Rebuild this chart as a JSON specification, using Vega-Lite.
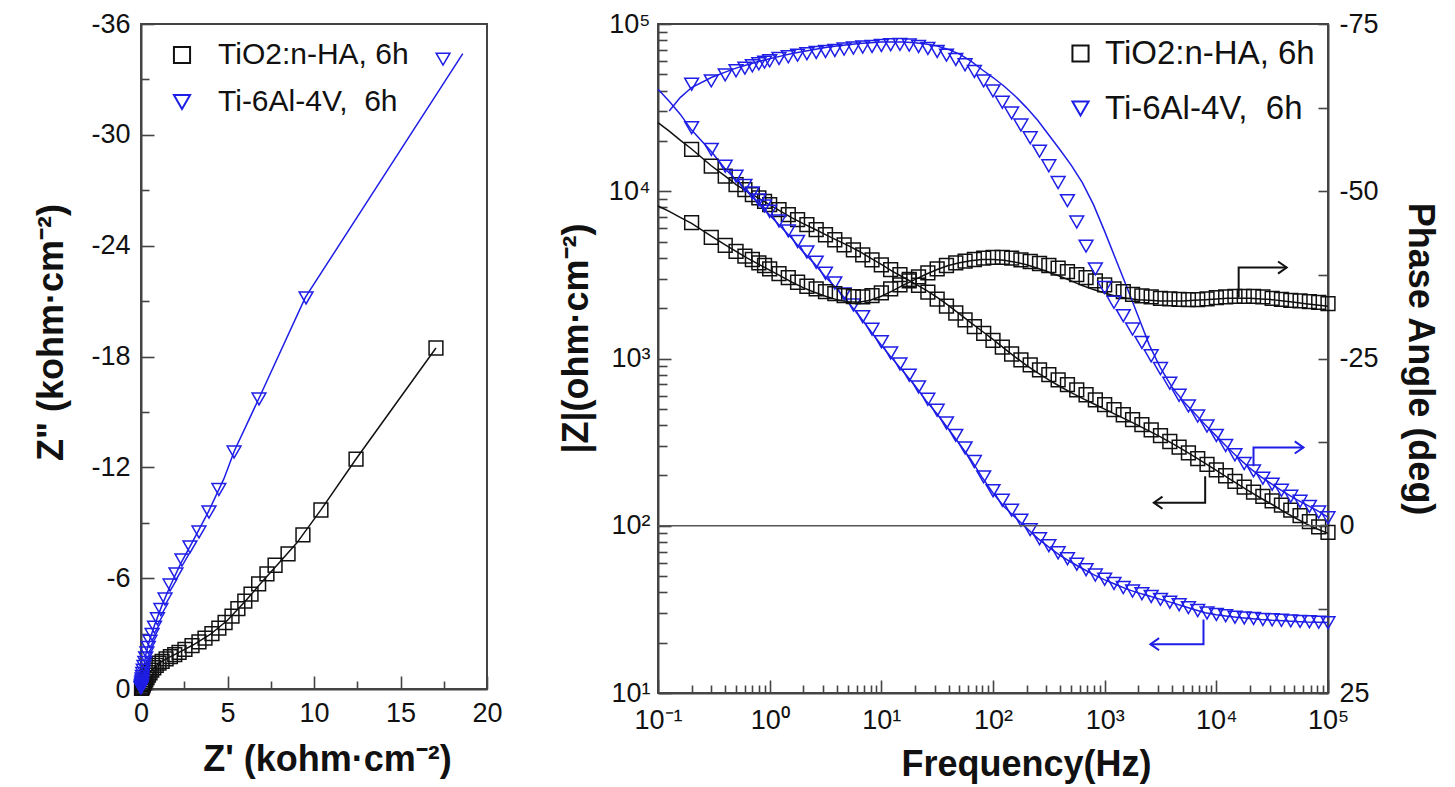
{
  "$schema": "https://vega.github.io/schema/vega-lite/v6.json",
  "background": "white",
  "padding": {"left": 32, "top": 9, "right": 5, "bottom": 5},
  "config": {
    "font": "Liberation Sans",
    "view": {"stroke": "#444", "strokeWidth": 2},
    "axis": {"domainColor": "#444", "domainWidth": 2, "tickColor": "#444", "tickWidth": 1.6, "grid": false,
             "labelFont": "Liberation Sans", "labelFontSize": 27, "labelColor": "#111", "labelFlush": false,
             "titleFont": "Liberation Sans", "titleFontSize": 36, "titleFontWeight": "bold", "titleColor": "#111"},
    "legend": {"labelFont": "Liberation Sans", "labelColor": "#111", "labelLimit": 400,
               "symbolStrokeWidth": 2, "symbolSize": 260, "padding": 0}
  },
  "datasets": {
    "ny": [
      {"s":"T","x":17.05,"y":-18.46},{"s":"T","x":12.43,"y":-12.45},{"s":"T","x":10.4,"y":-9.69},{"s":"T","x":9.36,"y":-8.34},
      {"s":"T","x":8.5,"y":-7.31},{"s":"T","x":7.75,"y":-6.7},{"s":"T","x":7.28,"y":-6.23},{"s":"T","x":6.8,"y":-5.69},
      {"s":"T","x":6.36,"y":-5.14},{"s":"T","x":6.0,"y":-4.76},{"s":"T","x":5.6,"y":-4.35},{"s":"T","x":5.26,"y":-3.95},
      {"s":"T","x":4.86,"y":-3.6},{"s":"T","x":4.5,"y":-3.3},{"s":"T","x":4.1,"y":-3.0},{"s":"T","x":3.7,"y":-2.75},
      {"s":"T","x":3.35,"y":-2.55},{"s":"T","x":2.95,"y":-2.35},{"s":"T","x":2.54,"y":-2.15},{"s":"T","x":2.2,"y":-1.98},
      {"s":"T","x":1.95,"y":-1.86},{"s":"T","x":1.7,"y":-1.75},{"s":"T","x":1.45,"y":-1.63},{"s":"T","x":1.22,"y":-1.5},
      {"s":"T","x":1.04,"y":-1.4},{"s":"T","x":0.88,"y":-1.28},{"s":"T","x":0.74,"y":-1.15},{"s":"T","x":0.62,"y":-1.02},
      {"s":"T","x":0.52,"y":-0.88},{"s":"T","x":0.43,"y":-0.75},{"s":"T","x":0.35,"y":-0.62},{"s":"T","x":0.28,"y":-0.5},
      {"s":"T","x":0.22,"y":-0.4},{"s":"T","x":0.17,"y":-0.31},{"s":"T","x":0.13,"y":-0.23},{"s":"T","x":0.1,"y":-0.16},
      {"s":"T","x":0.07,"y":-0.1},{"s":"T","x":0.05,"y":-0.06},{"s":"T","x":0.03,"y":-0.03},
      {"s":"A","x":17.46,"y":-34.1},{"s":"A","x":9.54,"y":-21.17},{"s":"A","x":6.82,"y":-15.7},{"s":"A","x":5.38,"y":-12.83},
      {"s":"A","x":4.5,"y":-10.8},{"s":"A","x":3.93,"y":-9.58},{"s":"A","x":3.35,"y":-8.5},{"s":"A","x":2.83,"y":-7.69},
      {"s":"A","x":2.37,"y":-6.98},{"s":"A","x":2.02,"y":-6.23},{"s":"A","x":1.68,"y":-5.63},{"s":"A","x":1.39,"y":-4.87},
      {"s":"A","x":1.15,"y":-4.3},{"s":"A","x":0.95,"y":-3.8},{"s":"A","x":0.78,"y":-3.35},{"s":"A","x":0.64,"y":-2.95},
      {"s":"A","x":0.52,"y":-2.58},{"s":"A","x":0.42,"y":-2.25},{"s":"A","x":0.34,"y":-1.95},{"s":"A","x":0.27,"y":-1.68},
      {"s":"A","x":0.22,"y":-1.44},{"s":"A","x":0.17,"y":-1.22},{"s":"A","x":0.13,"y":-1.02},{"s":"A","x":0.1,"y":-0.84},
      {"s":"A","x":0.08,"y":-0.68},{"s":"A","x":0.06,"y":-0.54},{"s":"A","x":0.05,"y":-0.42},{"s":"A","x":0.04,"y":-0.32},
      {"s":"A","x":0.03,"y":-0.24},{"s":"A","x":0.02,"y":-0.16},{"s":"A","x":0.01,"y":-0.1},{"s":"A","x":0.0,"y":-0.05}
    ],
    "nyfit": [
      {"s":"T","x":0.0,"y":0.0},{"s":"T","x":0.1,"y":-0.3},{"s":"T","x":0.3,"y":-0.62},{"s":"T","x":0.6,"y":-1.0},
      {"s":"T","x":1.0,"y":-1.37},{"s":"T","x":1.5,"y":-1.66},{"s":"T","x":2.2,"y":-1.98},{"s":"T","x":3.0,"y":-2.38},
      {"s":"T","x":4.0,"y":-2.95},{"s":"T","x":5.0,"y":-3.72},{"s":"T","x":6.0,"y":-4.72},{"s":"T","x":7.0,"y":-5.8},
      {"s":"T","x":8.0,"y":-6.85},{"s":"T","x":9.0,"y":-7.9},{"s":"T","x":10.4,"y":-9.7},{"s":"T","x":12.43,"y":-12.45},
      {"s":"T","x":17.05,"y":-18.46},
      {"s":"A","x":0.0,"y":0.0},{"s":"A","x":0.05,"y":-0.4},{"s":"A","x":0.15,"y":-1.15},{"s":"A","x":0.3,"y":-1.95},
      {"s":"A","x":0.5,"y":-2.65},{"s":"A","x":0.8,"y":-3.5},{"s":"A","x":1.2,"y":-4.5},{"s":"A","x":1.7,"y":-5.6},
      {"s":"A","x":2.3,"y":-6.8},{"s":"A","x":3.0,"y":-8.0},{"s":"A","x":3.9,"y":-9.6},{"s":"A","x":4.8,"y":-11.4},
      {"s":"A","x":5.4,"y":-12.9},{"s":"A","x":6.9,"y":-15.9},{"s":"A","x":9.5,"y":-21.2},{"s":"A","x":18.6,"y":-34.4}
    ],
    "bode": [
      {"s":"T","f":0.2,"z":17783,"p":-45.3},{"s":"T","f":0.3,"z":14125,"p":-43.1},{"s":"T","f":0.4,"z":12303,"p":-41.9},{"s":"T","f":0.5,"z":10965,"p":-41.0},
      {"s":"T","f":0.6,"z":10233,"p":-40.3},{"s":"T","f":0.7,"z":9550,"p":-39.8},{"s":"T","f":0.8,"z":9120,"p":-39.3},{"s":"T","f":0.9,"z":8710,"p":-38.9},
      {"s":"T","f":1,"z":8318,"p":-38.4},{"s":"T","f":1.212,"z":7762,"p":-37.7},{"s":"T","f":1.468,"z":7244,"p":-37.1},{"s":"T","f":1.778,"z":6761,"p":-36.4},
      {"s":"T","f":2.154,"z":6310,"p":-35.8},{"s":"T","f":2.61,"z":5888,"p":-35.4},{"s":"T","f":3.162,"z":5495,"p":-35.0},{"s":"T","f":3.831,"z":5129,"p":-34.7},
      {"s":"T","f":4.642,"z":4786,"p":-34.4},{"s":"T","f":5.623,"z":4467,"p":-34.25},{"s":"T","f":6.813,"z":4169,"p":-34.2},{"s":"T","f":8.254,"z":3890,"p":-34.4},
      {"s":"T","f":10,"z":3631,"p":-34.8},{"s":"T","f":12.12,"z":3396,"p":-35.4},{"s":"T","f":14.68,"z":3177,"p":-36.0},{"s":"T","f":17.78,"z":2972,"p":-36.6},
      {"s":"T","f":21.54,"z":2742,"p":-37.2},{"s":"T","f":26.1,"z":2495,"p":-37.8},{"s":"T","f":31.62,"z":2265,"p":-38.4},{"s":"T","f":38.31,"z":2056,"p":-38.9},
      {"s":"T","f":46.42,"z":1871,"p":-39.3},{"s":"T","f":56.23,"z":1702,"p":-39.55},{"s":"T","f":68.13,"z":1549,"p":-39.8},{"s":"T","f":82.54,"z":1413,"p":-40.0},
      {"s":"T","f":100,"z":1282,"p":-40.1},{"s":"T","f":121.2,"z":1169,"p":-40.1},{"s":"T","f":146.8,"z":1064,"p":-40.0},{"s":"T","f":177.8,"z":982,"p":-39.75},
      {"s":"T","f":215.4,"z":916,"p":-39.5},{"s":"T","f":261,"z":855,"p":-39.2},{"s":"T","f":316.2,"z":800,"p":-38.9},{"s":"T","f":383.1,"z":746,"p":-38.5},
      {"s":"T","f":464.2,"z":697,"p":-38.0},{"s":"T","f":562.3,"z":650,"p":-37.55},{"s":"T","f":681.3,"z":607,"p":-37.1},{"s":"T","f":825.4,"z":566,"p":-36.6},
      {"s":"T","f":1000,"z":530,"p":-36.0},{"s":"T","f":1212,"z":494,"p":-35.4},{"s":"T","f":1468,"z":461,"p":-35.0},{"s":"T","f":1778,"z":431,"p":-34.6},
      {"s":"T","f":2154,"z":402,"p":-34.35},{"s":"T","f":2610,"z":374,"p":-34.2},{"s":"T","f":3162,"z":346,"p":-34.0},{"s":"T","f":3831,"z":319,"p":-33.9},
      {"s":"T","f":4642,"z":295,"p":-33.85},{"s":"T","f":5623,"z":273,"p":-33.8},{"s":"T","f":6813,"z":252,"p":-33.8},{"s":"T","f":8254,"z":233,"p":-33.9},
      {"s":"T","f":10000,"z":216,"p":-34.1},{"s":"T","f":12120,"z":199,"p":-34.2},{"s":"T","f":14680,"z":184,"p":-34.3},{"s":"T","f":17780,"z":170,"p":-34.3},
      {"s":"T","f":21540,"z":159,"p":-34.3},{"s":"T","f":26100,"z":150,"p":-34.2},{"s":"T","f":31620,"z":141,"p":-34.0},{"s":"T","f":38310,"z":133,"p":-33.85},
      {"s":"T","f":46420,"z":124,"p":-33.7},{"s":"T","f":56230,"z":115,"p":-33.6},{"s":"T","f":68130,"z":106,"p":-33.5},{"s":"T","f":82540,"z":98.4,"p":-33.4},
      {"s":"T","f":100000,"z":91.2,"p":-33.2},
      {"s":"A","f":0.2,"z":23988,"p":-66.0},{"s":"A","f":0.3,"z":17783,"p":-66.5},{"s":"A","f":0.4,"z":14125,"p":-67.4},{"s":"A","f":0.5,"z":12303,"p":-68.0},
      {"s":"A","f":0.6,"z":10839,"p":-68.4},{"s":"A","f":0.7,"z":9772,"p":-68.75},{"s":"A","f":0.8,"z":8872,"p":-69.05},{"s":"A","f":0.9,"z":8166,"p":-69.3},
      {"s":"A","f":1,"z":7586,"p":-69.5},{"s":"A","f":1.212,"z":6637,"p":-69.85},{"s":"A","f":1.468,"z":5794,"p":-70.1},{"s":"A","f":1.778,"z":5012,"p":-70.35},
      {"s":"A","f":2.154,"z":4335,"p":-70.55},{"s":"A","f":2.61,"z":3767,"p":-70.75},{"s":"A","f":3.162,"z":3236,"p":-70.9},{"s":"A","f":3.831,"z":2831,"p":-71.05},
      {"s":"A","f":4.642,"z":2432,"p":-71.25},{"s":"A","f":5.623,"z":2089,"p":-71.4},{"s":"A","f":6.813,"z":1778,"p":-71.55},{"s":"A","f":8.254,"z":1496,"p":-71.65},
      {"s":"A","f":10,"z":1259,"p":-71.8},{"s":"A","f":12.12,"z":1079,"p":-71.9},{"s":"A","f":14.68,"z":927,"p":-71.95},{"s":"A","f":17.78,"z":794,"p":-71.85},
      {"s":"A","f":21.54,"z":676,"p":-71.65},{"s":"A","f":26.1,"z":570,"p":-71.35},{"s":"A","f":31.62,"z":490,"p":-70.9},{"s":"A","f":38.31,"z":412,"p":-70.35},
      {"s":"A","f":46.42,"z":347,"p":-69.7},{"s":"A","f":56.23,"z":292,"p":-68.9},{"s":"A","f":68.13,"z":242,"p":-67.9},{"s":"A","f":82.54,"z":196,"p":-66.5},
      {"s":"A","f":100,"z":162,"p":-65.0},{"s":"A","f":121.2,"z":142,"p":-63.3},{"s":"A","f":146.8,"z":124,"p":-61.7},{"s":"A","f":177.8,"z":108,"p":-59.9},
      {"s":"A","f":215.4,"z":94.8,"p":-58.0},{"s":"A","f":261,"z":83.6,"p":-56.0},{"s":"A","f":316.2,"z":75.9,"p":-53.8},{"s":"A","f":383.1,"z":68.9,"p":-51.3},
      {"s":"A","f":464.2,"z":63.5,"p":-48.6},{"s":"A","f":562.3,"z":58.9,"p":-45.4},{"s":"A","f":681.3,"z":54.6,"p":-41.8},{"s":"A","f":825.4,"z":50.7,"p":-38.4},
      {"s":"A","f":1000,"z":47.9,"p":-35.6},{"s":"A","f":1212,"z":45.2,"p":-33.4},{"s":"A","f":1468,"z":42.7,"p":-31.4},{"s":"A","f":1778,"z":40.7,"p":-29.4},
      {"s":"A","f":2154,"z":39.2,"p":-27.4},{"s":"A","f":2610,"z":37.8,"p":-25.4},{"s":"A","f":3162,"z":36.3,"p":-23.5},{"s":"A","f":3831,"z":34.9,"p":-21.3},
      {"s":"A","f":4642,"z":33.7,"p":-19.5},{"s":"A","f":5623,"z":32.4,"p":-17.9},{"s":"A","f":6813,"z":31.1,"p":-16.4},{"s":"A","f":8254,"z":30.1,"p":-14.9},
      {"s":"A","f":10000,"z":29.5,"p":-13.5},{"s":"A","f":12120,"z":29.0,"p":-12.0},{"s":"A","f":14680,"z":28.4,"p":-10.6},{"s":"A","f":17780,"z":28.1,"p":-9.3},
      {"s":"A","f":21540,"z":27.9,"p":-8.2},{"s":"A","f":26100,"z":27.5,"p":-7.1},{"s":"A","f":31620,"z":27.4,"p":-6.2},{"s":"A","f":38310,"z":27.2,"p":-5.3},
      {"s":"A","f":46420,"z":27.0,"p":-4.4},{"s":"A","f":56230,"z":26.8,"p":-3.65},{"s":"A","f":68130,"z":26.7,"p":-2.9},{"s":"A","f":82540,"z":26.5,"p":-2.05},
      {"s":"A","f":100000,"z":26.3,"p":-1.2}
    ],
    "bfit": [
      {"s":"T","f":0.1,"fz":25700,"fp":-47.8},{"s":"T","f":0.126,"fz":22900,"fp":-47.0},{"s":"T","f":0.158,"fz":20200,"fp":-46.1},
      {"s":"T","f":0.2,"fz":17900,"fp":-45.2},{"s":"T","f":0.3,"fz":14200,"fp":-43.3},{"s":"T","f":0.4,"fz":12300,"fp":-42.0},
      {"s":"T","f":0.5,"fz":10950,"fp":-41.0},{"s":"T","f":0.631,"fz":9950,"fp":-40.0},{"s":"T","f":0.794,"fz":9100,"fp":-39.1},
      {"s":"T","f":1,"fz":8300,"fp":-38.2},{"s":"T","f":1.259,"fz":7580,"fp":-37.3},{"s":"T","f":1.585,"fz":6930,"fp":-36.4},
      {"s":"T","f":1.995,"fz":6400,"fp":-35.6},{"s":"T","f":2.512,"fz":5950,"fp":-34.9},{"s":"T","f":3.162,"fz":5500,"fp":-34.3},
      {"s":"T","f":3.981,"fz":5100,"fp":-33.8},{"s":"T","f":5.012,"fz":4750,"fp":-33.5},{"s":"T","f":6.31,"fz":4380,"fp":-33.4},
      {"s":"T","f":7.943,"fz":4000,"fp":-33.7},{"s":"T","f":10,"fz":3650,"fp":-34.3},{"s":"T","f":12.59,"fz":3320,"fp":-35.1},
      {"s":"T","f":15.85,"fz":3050,"fp":-36.0},{"s":"T","f":19.95,"fz":2800,"fp":-36.8},{"s":"T","f":25.12,"fz":2560,"fp":-37.6},
      {"s":"T","f":31.62,"fz":2320,"fp":-38.3},{"s":"T","f":39.81,"fz":2080,"fp":-38.9},{"s":"T","f":50.12,"fz":1850,"fp":-39.3},
      {"s":"T","f":63.1,"fz":1640,"fp":-39.6},{"s":"T","f":79.43,"fz":1460,"fp":-39.8},{"s":"T","f":100,"fz":1300,"fp":-39.8},
      {"s":"T","f":125.9,"fz":1150,"fp":-39.7},{"s":"T","f":158.5,"fz":1020,"fp":-39.4},{"s":"T","f":199.5,"fz":910,"fp":-39.0},
      {"s":"T","f":251.2,"fz":820,"fp":-38.5},{"s":"T","f":316.2,"fz":745,"fp":-37.9},{"s":"T","f":398.1,"fz":680,"fp":-37.3},
      {"s":"T","f":501.2,"fz":625,"fp":-36.6},{"s":"T","f":631,"fz":578,"fp":-35.9},{"s":"T","f":794.3,"fz":536,"fp":-35.3},
      {"s":"T","f":1000,"fz":498,"fp":-34.8},{"s":"T","f":1259,"fz":462,"fp":-34.3},{"s":"T","f":1585,"fz":430,"fp":-34.0},
      {"s":"T","f":1995,"fz":398,"fp":-33.8},{"s":"T","f":2512,"fz":368,"fp":-33.7},{"s":"T","f":3162,"fz":340,"fp":-33.6},
      {"s":"T","f":3981,"fz":312,"fp":-33.6},{"s":"T","f":5012,"fz":285,"fp":-33.6},{"s":"T","f":6310,"fz":260,"fp":-33.7},
      {"s":"T","f":7943,"fz":236,"fp":-33.8},{"s":"T","f":10000,"fz":214,"fp":-33.9},{"s":"T","f":12589,"fz":194,"fp":-34.0},
      {"s":"T","f":15849,"fz":176,"fp":-34.0},{"s":"T","f":19953,"fz":160,"fp":-34.0},{"s":"T","f":25119,"fz":146,"fp":-33.9},
      {"s":"T","f":31623,"fz":134,"fp":-33.8},{"s":"T","f":39811,"fz":122,"fp":-33.6},{"s":"T","f":50119,"fz":112,"fp":-33.4},
      {"s":"T","f":63096,"fz":103,"fp":-33.2},{"s":"T","f":79433,"fz":96,"fp":-33.0},{"s":"T","f":100000,"fz":90,"fp":-32.8},
      {"s":"A","f":0.1,"fz":40700},{"s":"A","f":0.126,"fz":34500,"fp":-62.0},{"s":"A","f":0.158,"fz":28900,"fp":-64.0},
      {"s":"A","f":0.2,"fz":23200,"fp":-65.5},{"s":"A","f":0.3,"fz":17300,"fp":-67.0},{"s":"A","f":0.4,"fz":13600,"fp":-67.8},
      {"s":"A","f":0.5,"fz":11700,"fp":-68.4},{"s":"A","f":0.631,"fz":9950,"fp":-68.9},{"s":"A","f":0.794,"fz":8470,"fp":-69.4},
      {"s":"A","f":1,"fz":7200,"fp":-69.8},{"s":"A","f":1.259,"fz":6130,"fp":-70.2},{"s":"A","f":1.585,"fz":5220,"fp":-70.6},
      {"s":"A","f":1.995,"fz":4340,"fp":-70.9},{"s":"A","f":2.512,"fz":3700,"fp":-71.2},{"s":"A","f":3.162,"fz":3070,"fp":-71.5},
      {"s":"A","f":3.981,"fz":2620,"fp":-71.7},{"s":"A","f":5.012,"fz":2180,"fp":-71.9},{"s":"A","f":6.31,"fz":1810,"fp":-72.1},
      {"s":"A","f":7.943,"fz":1470,"fp":-72.2},{"s":"A","f":10,"fz":1200,"fp":-72.3},{"s":"A","f":12.59,"fz":995,"fp":-72.3},
      {"s":"A","f":15.85,"fz":830,"fp":-72.3},{"s":"A","f":19.95,"fz":690,"fp":-72.2},{"s":"A","f":25.12,"fz":560,"fp":-72.0},
      {"s":"A","f":31.62,"fz":466,"fp":-71.7},{"s":"A","f":39.81,"fz":380,"fp":-71.2},{"s":"A","f":50.12,"fz":308,"fp":-70.5},
      {"s":"A","f":63.1,"fz":250,"fp":-69.5},{"s":"A","f":79.43,"fz":196,"fp":-68.2},{"s":"A","f":100,"fz":157,"fp":-67.0},
      {"s":"A","f":125.9,"fz":130,"fp":-65.7},{"s":"A","f":158.5,"fz":112,"fp":-64.2},{"s":"A","f":199.5,"fz":97,"fp":-62.5},
      {"s":"A","f":251.2,"fz":84,"fp":-60.6},{"s":"A","f":316.2,"fz":74.5,"fp":-58.4},{"s":"A","f":398.1,"fz":66.5,"fp":-56.2},
      {"s":"A","f":501.2,"fz":60.5,"fp":-53.9},{"s":"A","f":631,"fz":55.5,"fp":-51.3},{"s":"A","f":794.3,"fz":51,"fp":-48.0},
      {"s":"A","f":1000,"fz":47.5,"fp":-44.0},{"s":"A","f":1259,"fz":44.5,"fp":-39.8},{"s":"A","f":1585,"fz":41.8,"fp":-35.6},
      {"s":"A","f":1995,"fz":39.7,"fp":-31.3},{"s":"A","f":2512,"fz":38.0,"fp":-27.0},{"s":"A","f":3162,"fz":36.3,"fp":-23.6},
      {"s":"A","f":3981,"fz":34.7,"fp":-20.8},{"s":"A","f":5012,"fz":33.1,"fp":-18.7},{"s":"A","f":6310,"fz":31.6,"fp":-16.9},
      {"s":"A","f":7943,"fz":30.2,"fp":-15.1},{"s":"A","f":10000,"fz":29.4,"fp":-13.4},{"s":"A","f":12589,"fz":28.8,"fp":-11.7},
      {"s":"A","f":15849,"fz":28.3,"fp":-10.1},{"s":"A","f":19953,"fz":27.9,"fp":-8.6},{"s":"A","f":25119,"fz":27.5,"fp":-7.3},
      {"s":"A","f":31623,"fz":27.2,"fp":-6.2},{"s":"A","f":39811,"fz":27.0,"fp":-5.1},{"s":"A","f":50119,"fz":26.8,"fp":-4.1},
      {"s":"A","f":63096,"fz":26.6,"fp":-3.2},{"s":"A","f":79433,"fz":26.5,"fp":-2.3},{"s":"A","f":100000,"fz":26.4,"fp":-1.3}
    ],
    "arrows": [
      {"a":"kR","s":"T","o":1,"f":15849,"p":-34.1},{"a":"kR","s":"T","o":2,"f":15849,"p":-38.6},{"a":"kR","s":"T","o":3,"f":42658,"p":-38.6},
      {"a":"kL","s":"T","o":1,"f":7943,"p":-7.4},{"a":"kL","s":"T","o":2,"f":7943,"p":-3.45},{"a":"kL","s":"T","o":3,"f":2754,"p":-3.45},
      {"a":"bR","s":"A","o":1,"f":21528,"p":-8.9},{"a":"bR","s":"A","o":2,"f":21528,"p":-11.7},{"a":"bR","s":"A","o":3,"f":60256,"p":-11.7},
      {"a":"bL","s":"A","o":1,"f":7674,"p":14.0},{"a":"bL","s":"A","o":2,"f":7674,"p":17.7},{"a":"bL","s":"A","o":3,"f":2570,"p":17.7}
    ]
  },
  "hconcat": [
    {
      "width": 346,
      "height": 665,
      "layer": [
        {
          "data": {"name": "nyfit"},
          "mark": {"type": "line", "strokeWidth": 1.5},
          "encoding": {
            "x": {"field": "x", "type": "quantitative", "scale": {"domain": [0, 20], "nice": false, "zero": false},
                  "axis": {"orient": "bottom", "values": [2.5, 7.5, 12.5, 17.5], "labels": false, "domain": false, "tickSize": -8, "title": null}},
            "y": {"field": "y", "type": "quantitative", "scale": {"domain": [-36, 0], "nice": false, "zero": false, "reverse": true},
                  "axis": {"orient": "left", "values": [-33, -27, -21, -15, -9, -3], "labels": false, "domain": false, "tickSize": -8, "title": null}},
            "detail": {"field": "s"},
            "color": {"condition": {"test": "datum.s == 'A'", "value": "#1e1ee6"}, "value": "#111111"}
          }
        },
        {
          "data": {"name": "ny"},
          "mark": {"type": "point", "filled": false, "size": 190, "strokeWidth": 1.5, "opacity": 1},
          "encoding": {
            "x": {"field": "x", "type": "quantitative",
                  "axis": {"orient": "bottom", "values": [0, 5, 10, 15, 20], "tickSize": -13, "labelPadding": 24, "title": "Z' (kohm·cm⁻²)", "titlePadding": 16, "titleX": 186}},
            "y": {"field": "y", "type": "quantitative",
                  "axis": {"orient": "left", "values": [-36, -30, -24, -18, -12, -6, 0], "tickSize": -13, "labelPadding": 24,
                           "labelExpr": "datum.value < 0 ? '-' + abs(datum.value) : '' + datum.value",
                           "title": "Z\" (kohm·cm⁻²)", "titlePadding": 20, "titleY": 308}},
            "color": {"field": "s", "type": "nominal", "scale": {"domain": ["T", "A"], "range": ["#111111", "#1e1ee6"]},
                      "legend": {"title": null, "orient": "top-left", "offset": 16, "symbolOffset": 10, "labelOffset": 21, "rowPadding": 17, "labelFontSize": 30,
                                 "labelExpr": "datum.value == 'T' ? 'TiO2:n-HA, 6h' : 'Ti-6Al-4V,\u00a0 6h'"}},
            "shape": {"field": "s", "type": "nominal", "scale": {"domain": ["T", "A"], "range": ["square", "triangle-down"]},
                      "legend": {"title": null, "orient": "top-left", "offset": 16, "symbolOffset": 10, "labelOffset": 21, "rowPadding": 17, "labelFontSize": 30,
                                 "labelExpr": "datum.value == 'T' ? 'TiO2:n-HA, 6h' : 'Ti-6Al-4V,\u00a0 6h'"}}
          }
        }
      ],
      "resolve": {"axis": {"x": "independent", "y": "independent"}}
    },
    {
      "width": 670,
      "height": 669,
      "layer": [
        {
          "layer": [
            {
              "data": {"name": "bfit"},
              "transform": [{"filter": "isValid(datum.fz)"}],
              "mark": {"type": "line", "strokeWidth": 1.5},
              "encoding": {
                "x": {"field": "f", "type": "quantitative", "scale": {"type": "log", "domain": [0.1, 100000], "nice": false},
                      "axis": {"orient": "bottom", "values": [0.2,0.3,0.4,0.5,0.6,0.7,0.8,0.9,2,3,4,5,6,7,8,9,20,30,40,50,60,70,80,90,200,300,400,500,600,700,800,900,2000,3000,4000,5000,6000,7000,8000,9000,20000,30000,40000,50000,60000,70000,80000,90000],
                               "labels": false, "domain": false, "tickSize": -8, "title": null}},
                "y": {"field": "fz", "type": "quantitative", "scale": {"type": "log", "domain": [10, 100000], "nice": false},
                      "axis": {"orient": "left", "values": [20,30,40,50,60,70,80,90,200,300,400,500,600,700,800,900,2000,3000,4000,5000,6000,7000,8000,9000,20000,30000,40000,50000,60000,70000,80000,90000],
                               "labels": false, "domain": false, "tickSize": -9, "title": null}},
                "detail": {"field": "s"},
                "color": {"condition": {"test": "datum.s == 'A'", "value": "#1e1ee6"}, "value": "#111111"}
              }
            },
            {
              "data": {"name": "bode"},
              "mark": {"type": "point", "filled": false, "size": 190, "strokeWidth": 1.5, "opacity": 1},
              "encoding": {
                "x": {"field": "f", "type": "quantitative",
                      "axis": {"orient": "bottom", "values": [0.1, 1, 10, 100, 1000, 10000, 100000], "tickSize": -13, "labelPadding": 27,
                               "labelExpr": "datum.value < 0.5 ? '10⁻¹' : datum.value < 5 ? '10⁰' : datum.value < 50 ? '10¹' : datum.value < 500 ? '10²' : datum.value < 5000 ? '10³' : datum.value < 50000 ? '10⁴' : '10⁵'",
                               "title": "Frequency(Hz)", "titlePadding": 14, "titleX": 368}},
                "y": {"field": "z", "type": "quantitative",
                      "axis": {"orient": "left", "values": [10, 100, 1000, 10000, 100000], "tickSize": -13, "labelPadding": 21,
                               "labelExpr": "datum.value < 50 ? '10¹' : datum.value < 500 ? '10²' : datum.value < 5000 ? '10³' : datum.value < 50000 ? '10⁴' : '10⁵'",
                               "title": "|Z|(ohm·cm⁻²)", "titlePadding": 13, "titleY": 314}},
                "color": {"field": "s", "type": "nominal", "scale": {"domain": ["T", "A"], "range": ["#111111", "#1e1ee6"]},
                          "legend": {"title": null, "orient": "top-right", "offset": 13, "symbolOffset": 0, "labelOffset": 8, "rowPadding": 21, "labelFontSize": 33,
                                     "labelExpr": "datum.value == 'T' ? 'TiO2:n-HA, 6h' : 'Ti-6Al-4V,\u00a0 6h'"}},
                "shape": {"field": "s", "type": "nominal", "scale": {"domain": ["T", "A"], "range": ["square", "triangle-down"]},
                          "legend": {"title": null, "orient": "top-right", "offset": 13, "symbolOffset": 0, "labelOffset": 8, "rowPadding": 21, "labelFontSize": 33,
                                     "labelExpr": "datum.value == 'T' ? 'TiO2:n-HA, 6h' : 'Ti-6Al-4V,\u00a0 6h'"}}
              }
            }
          ],
          "resolve": {"axis": {"x": "independent", "y": "independent"}}
        },
        {
          "layer": [
            {
              "data": {"values": [{"ref": 0}]},
              "mark": {"type": "rule", "color": "#555555", "strokeWidth": 1.5},
              "encoding": {"y": {"field": "ref", "type": "quantitative", "scale": {"domain": [-75, 25], "reverse": true, "nice": false, "zero": false},
                      "axis": {"orient": "right", "values": [-75, -62.5, -50, -37.5, -25, -12.5, 0, 12.5, 25], "tickSize": -10, "labelPadding": 21,
                               "labelExpr": "datum.value % 25 == 0 ? (datum.value < 0 ? '-' + abs(datum.value) : '' + datum.value) : ''",
                               "title": "Phase Angle (deg)", "titlePadding": 22}}}
            },
            {
              "data": {"name": "bfit"},
              "transform": [{"filter": "isValid(datum.fp)"}],
              "mark": {"type": "line", "strokeWidth": 1.5},
              "encoding": {
                "x": {"field": "f", "type": "quantitative", "axis": null},
                "y": {"field": "fp", "type": "quantitative",
                      "axis": {"orient": "right", "values": [-75, -62.5, -50, -37.5, -25, -12.5, 0, 12.5, 25], "tickSize": -10, "labelPadding": 21,
                               "labelExpr": "datum.value % 25 == 0 ? (datum.value < 0 ? '-' + abs(datum.value) : '' + datum.value) : ''",
                               "title": "Phase Angle (deg)", "titlePadding": 22}},
                "detail": {"field": "s"},
                "color": {"condition": {"test": "datum.s == 'A'", "value": "#1e1ee6"}, "value": "#111111"}
              }
            },
            {
              "data": {"name": "bode"},
              "mark": {"type": "point", "filled": false, "size": 190, "strokeWidth": 1.5, "opacity": 1},
              "encoding": {
                "x": {"field": "f", "type": "quantitative", "axis": null},
                "y": {"field": "p", "type": "quantitative",
                      "axis": {"orient": "right", "values": [-75, -62.5, -50, -37.5, -25, -12.5, 0, 12.5, 25], "tickSize": -10, "labelPadding": 21,
                               "labelExpr": "datum.value % 25 == 0 ? (datum.value < 0 ? '-' + abs(datum.value) : '' + datum.value) : ''",
                               "title": "Phase Angle (deg)", "titlePadding": 22}},
                "color": {"field": "s", "type": "nominal", "scale": {"domain": ["T", "A"], "range": ["#111111", "#1e1ee6"]},
                          "legend": {"title": null, "orient": "top-right", "offset": 13, "symbolOffset": 0, "labelOffset": 8, "rowPadding": 21, "labelFontSize": 33,
                                     "labelExpr": "datum.value == 'T' ? 'TiO2:n-HA, 6h' : 'Ti-6Al-4V,\u00a0 6h'"}},
                "shape": {"field": "s", "type": "nominal", "scale": {"domain": ["T", "A"], "range": ["square", "triangle-down"]},
                          "legend": {"title": null, "orient": "top-right", "offset": 13, "symbolOffset": 0, "labelOffset": 8, "rowPadding": 21, "labelFontSize": 33,
                                     "labelExpr": "datum.value == 'T' ? 'TiO2:n-HA, 6h' : 'Ti-6Al-4V,\u00a0 6h'"}}
              }
            },
            {
              "data": {"name": "arrows"},
              "mark": {"type": "line", "strokeWidth": 2},
              "encoding": {
                "x": {"field": "f", "type": "quantitative", "axis": null},
                "y": {"field": "p", "type": "quantitative",
                      "axis": {"orient": "right", "values": [-75, -62.5, -50, -37.5, -25, -12.5, 0, 12.5, 25], "tickSize": -10, "labelPadding": 21,
                               "labelExpr": "datum.value % 25 == 0 ? (datum.value < 0 ? '-' + abs(datum.value) : '' + datum.value) : ''",
                               "title": "Phase Angle (deg)", "titlePadding": 22}},
                "detail": {"field": "a"},
                "order": {"field": "o"},
                "color": {"condition": {"test": "datum.s == 'A'", "value": "#1e1ee6"}, "value": "#111111"}
              }
            },
            {
              "data": {"name": "arrows"},
              "transform": [{"filter": "datum.o == 3"}],
              "mark": {"type": "point", "filled": false, "size": 300, "strokeWidth": 2, "opacity": 1},
              "encoding": {
                "x": {"field": "f", "type": "quantitative", "axis": null},
                "y": {"field": "p", "type": "quantitative",
                      "axis": {"orient": "right", "values": [-75, -62.5, -50, -37.5, -25, -12.5, 0, 12.5, 25], "tickSize": -10, "labelPadding": 21,
                               "labelExpr": "datum.value % 25 == 0 ? (datum.value < 0 ? '-' + abs(datum.value) : '' + datum.value) : ''",
                               "title": "Phase Angle (deg)", "titlePadding": 22}},
                "shape": {"condition": {"test": "datum.a == 'kR' || datum.a == 'bR'", "value": "M-1,-0.7L0,0L-1,0.7"}, "value": "M1,-0.7L0,0L1,0.7"},
                "color": {"condition": {"test": "datum.s == 'A'", "value": "#1e1ee6"}, "value": "#111111"}
              }
            }
          ]
        }
      ],
      "resolve": {"scale": {"y": "independent"}, "axis": {"x": "independent", "y": "independent"}}
    }
  ],
  "spacing": 171,
  "bounds": "flush",
  "resolve": {"scale": {"color": "independent", "shape": "independent"}, "legend": {"color": "independent", "shape": "independent"}}
}
